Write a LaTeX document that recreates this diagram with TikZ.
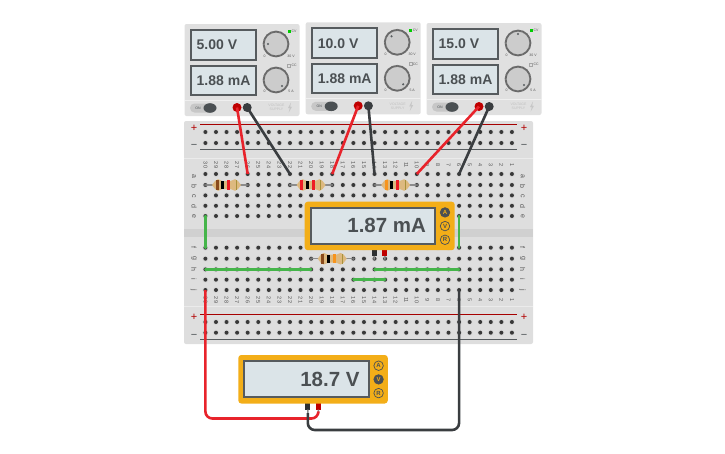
\documentclass[tikz,border=0pt]{standalone}
\usepackage{fontspec}
\setmainfont{Liberation Sans}
\usetikzlibrary{
	positioning
}
\definecolor{boardgrey}{HTML}{DEDEDE}
\definecolor{bandgrey}{HTML}{D0D0D0}
\definecolor{psugrey}{HTML}{E0E0E0}
\definecolor{lcdblue}{HTML}{DBE4E8}
\definecolor{lcdedge}{HTML}{565B5E}
\definecolor{inkgrey}{HTML}{4B5053}
\definecolor{labelgrey}{HTML}{555555}
\definecolor{knobring}{HTML}{6A6A6A}
\definecolor{meterorange}{HTML}{F3AE18}
\definecolor{wireredc}{HTML}{E8232B}
\definecolor{wireblackc}{HTML}{3A3D40}
\definecolor{wiregreenc}{HTML}{45B54A}
\definecolor{resbody}{HTML}{DDB97F}
\definecolor{brownband}{HTML}{8A4B1C}
\definecolor{redband}{HTML}{EE1C25}
\definecolor{orangeband}{HTML}{F7941D}
\definecolor{goldband}{HTML}{A8923C}
\tikzset{
	collabel/.style={font=\fontsize{5.5}{6}\selectfont, text=labelgrey, rotate=-90, inner sep=0pt},
	railsign/.style={font=\fontsize{11}{11}\selectfont, inner sep=0pt},
	tiny label/.style={font=\fontsize{3.5}{4}\selectfont, text=labelgrey, inner sep=0pt},
	psubody/.style={fill=psugrey, rounded corners=2pt, anchor=north west, inner sep=0pt, outer sep=0pt, minimum width=115pt, minimum height=92pt},
	lcd/.style={draw=lcdedge, fill=lcdblue, line width=2pt, inner sep=0pt, outer sep=0pt},
	readout/.style={font=\fontsize{14}{14}\selectfont\bfseries, text=inkgrey, inner sep=0pt},
	bigreadout/.style={font=\fontsize{20.5}{20.5}\selectfont\bfseries, text=inkgrey, inner sep=0pt},
	terminal/.style={circle, inner sep=0pt, minimum size=9pt},
	wirered/.style={draw=wireredc, line width=2.6pt, rounded corners=7pt},
	wireblack/.style={draw=wireblackc, line width=2.6pt, rounded corners=7pt},
	wiregreen/.style={draw=wiregreenc, line width=2.6pt, line cap=round},
	btnoff/.style={circle, draw=inkgrey, line width=.7pt, text=inkgrey, minimum size=9.5pt, inner sep=0pt, font=\fontsize{6}{6}\selectfont\bfseries},
	btnon/.style={btnoff, fill=inkgrey, text=meterorange}
}
\begin{document}
\begin{tikzpicture}[x=1pt, y=-1pt]
	\useasboundingbox (0,0) rectangle (725,453);

	% breadboard
	\node[fill=boardgrey, rounded corners=2pt, anchor=north west, inner sep=0pt, outer sep=0pt, minimum width=349pt, minimum height=223pt] (board) at (184,121) {};
	\fill[bandgrey] (184,229) rectangle (533,237);
	\draw[white!40!boardgrey, line width=.8pt] (184,158) -- (533,158);
	\draw[white!40!boardgrey, line width=.8pt] (184,306) -- (533,306);
	\foreach \y/\c/\w in {124.5/red!65!black/1.2, 149.5/lcdedge/1.2, 314.3/red!65!black/1.2, 339.3/lcdedge/1.2} {
		\draw[\c, line width=\w pt] (200,\y) -- (517,\y);
	}
	\foreach \y/\n in {128/a, 317/b} {
		\node[railsign, text=red!70!black] (plusl\n) at (194,\y) {+};
		\node[railsign, text=red!70!black] (plusr\n) at (524,\y) {+};
	}
	\foreach \y/\n in {146/a, 336/b} {
		\node[railsign, text=inkgrey] (minusl\n) at (194,\y) {\textminus};
		\node[railsign, text=inkgrey] (minusr\n) at (524,\y) {\textminus};
	}

	% holes
	\foreach \c in {1,...,30} {
		\pgfmathsetmacro{\hx}{205.4+(30-\c)*10.57}
		\foreach \r/\ry in {tp/132, tn/143, a/174, b/185, c/195.4, d/205.8, e/216, f/247.7, g/258.7, h/269.4, i/279.7, j/290, bp/322, bn/332.7} {
			\coordinate (h-\c-\r) at (\hx,\ry);
			\fill[black!16] (h-\c-\r) circle (3pt);
			\fill[black!78] (h-\c-\r) circle (2pt);
		}
		\node[collabel] (top-\c) at (\hx,165) {\c};
		\node[collabel] (bot-\c) at (\hx,300) {\c};
	}
	\foreach \r/\ry in {a/176, b/186, c/196, d/206, e/216, f/247, g/258, h/269, i/279, j/290} {
		\node[collabel, font=\fontsize{7}{7}\selectfont] (left-\r) at (194,\ry) {\r};
		\node[collabel, font=\fontsize{7}{7}\selectfont] (right-\r) at (522.7,\ry) {\r};
	}

	% resistors
	\foreach \from/\to/\name/\bA/\bB/\bC in {h-30-b/h-26-b/r1/brownband/black/redband, h-22-b/h-18-b/r2/redband/black/redband, h-14-b/h-10-b/r3/orangeband/black/redband, h-20-g/h-16-g/r4/brownband/black/orangeband} {
		\draw[black!45, line width=1.5pt] (\from) -- (\to) coordinate[midway] (\name);
		\fill[black!55] (\from) circle (1.5pt) (\to) circle (1.5pt);
		\begin{scope}[shift={(\name)}]
			\fill[resbody] (-14.5,0) .. controls (-12,-3) and (-11,-5.8) .. (-8.5,-5.8) .. controls (-6.5,-5.8) and (-6,-4) .. (-4,-4) -- (4,-4) .. controls (6,-4) and (6.5,-5.8) .. (8.5,-5.8) .. controls (11,-5.8) and (12,-3) .. (14.5,0) .. controls (12,3) and (11,5.8) .. (8.5,5.8) .. controls (6.5,5.8) and (6,4) .. (4,4) -- (-4,4) .. controls (-6,4) and (-6.5,5.8) .. (-8.5,5.8) .. controls (-11,5.8) and (-12,3) .. (-14.5,0) -- cycle;
			\fill[\bA] (-11,-5) rectangle (-8,5);
			\fill[\bB] (-5.2,-4) rectangle (-2.2,4);
			\fill[\bC] (.4,-4.6) rectangle (3.4,4.6);
			\fill[goldband] (9.3,-5) rectangle (10.2,5);
		\end{scope}
	}

	% power supplies
	\foreach \s/\sx/\sy/\volt/\kx/\ky in {s1/184.5/24/5.00 V/-8/0, s2/305.7/22.3/10.0 V/-5.7/-6, s3/426.5/23/15.0 V/0/-9} {
		\begin{scope}[shift={(\sx,\sy)}]
			\node[psubody] (\s-body) at (0,0) {};
			\draw[white!50!psugrey, line width=.7pt] (0,76) -- (115,76);
			\node[lcd, anchor=north west, minimum width=65pt, minimum height=30pt] (\s-v) at (6,6) {};
			\node[lcd, minimum width=65pt, minimum height=29pt, below=6pt of \s-v] (\s-i) {};
			\node[readout, anchor=west, xshift=6pt] (\s-vtext) at (\s-v.west) {\volt};
			\node[readout, anchor=west, xshift=6pt] (\s-itext) at (\s-i.west) {1.88 mA};
			% knobs
			\foreach \kc/\dx/\dy in {20/\kx/\ky, 56/6/6} {
				\fill[black!20] (91.5,\kc) circle (12.6pt);
				\draw[knobring, line width=1.9pt, dash pattern=on .7pt off .3pt] (91.5,\kc) circle (12.4pt);
				\fill[lcdedge] (91.5+\dx,\kc+\dy) circle (1.2pt);
			}
			\fill[green!80!black] (103,6.2) rectangle (106,9.2);
			\draw[black!35, line width=.4pt] (103,40.2) rectangle (106,43.2);
			\node[tiny label, anchor=west] (\s-cv) at (107,7.7) {CV};
			\node[tiny label, anchor=west] (\s-cc) at (107,41.7) {CC};
			\node[tiny label] (\s-vmin) at (80,32) {0};
			\node[tiny label] (\s-vmax) at (106.5,32) {30 V};
			\node[tiny label] (\s-imin) at (80,67.7) {0};
			\node[tiny label] (\s-imax) at (106.5,67.7) {5 A};
			% switch
			\fill[black!22, rounded corners=4.5pt] (5.5,79.5) rectangle (31,88.5);
			\fill[inkgrey] (25.5,84) ellipse (6.5pt and 4.8pt);
			\node[tiny label, text=inkgrey] (\s-on) at (13.5,84) {ON};
			\node[terminal, fill=red!75!black] (\s-pos) at (52.5,83.5) {};
			\node[terminal, fill=wireblackc] (\s-neg) at (62.7,83.5) {};
			\node[tiny label, text=black!25, align=center] (\s-name) at (92,83.5) {VOLTAGE\\SUPPLY};
			\fill[black!22] (106.5,78.5) -- (103.5,84) -- (105.3,84) -- (104.2,88.5) -- (107.5,82.8) -- (105.7,82.8) -- cycle;
		\end{scope}
	}

	% jumpers
	\foreach \from/\to/\wstyle in {s1-pos.center/h-26-a/wirered, s1-neg.center/h-22-a/wireblack, s2-pos.center/h-18-a/wirered, s2-neg.center/h-14-a/wireblack, s3-pos.center/h-10-a/wirered, s3-neg.center/h-6-a/wireblack, h-30-e/h-30-f/wiregreen, h-6-e/h-6-f/wiregreen, h-30-h/h-20-h/wiregreen, h-14-h/h-6-h/wiregreen, h-16-i/h-13-i/wiregreen} {
		\draw[\wstyle] (\from) -- (\to);
	}

	% multimeters
	\foreach \m/\mx/\my/\val/\sA/\sV/\sW/\sH in {amm/304.7/201.7/1.87 mA/btnon/btnoff/150/48.5, volt/238.3/355/18.7 V/btnoff/btnon/149.5/48.5} {
		\begin{scope}[shift={(\mx,\my)}]
			\fill[inkgrey!60!black] (67,48) rectangle (72,54.5);
			\fill[red!75!black] (77.6,48) rectangle (82.6,54.5);
			\fill[black!45] (68.7,54.5) rectangle (70.3,58) (79.3,54.5) rectangle (80.9,58);
			\coordinate (\m-neg) at (69.5,58);
			\coordinate (\m-pos) at (80.1,58);
			\node[fill=meterorange, rounded corners=3pt, anchor=north west, inner sep=0pt, outer sep=0pt, minimum width=\sW pt, minimum height=\sH pt] (\m-body) at (0,0) {};
			\node[lcd, anchor=north west, minimum width=124.5pt, minimum height=36pt] (\m-lcd) at (6,6) {};
			\node[bigreadout, anchor=east, xshift=-9pt] (\m-text) at (\m-lcd.east) {\val};
			\node[\sA] (\m-a) at (140.3,10.7) {A};
			\node[\sV, below=3.5pt of \m-a] (\m-v) {V};
			\node[btnoff, below=3.5pt of \m-v] (\m-r) {R};
		\end{scope}
	}

	% voltmeter leads
	\coordinate (redlow) at (205,418.5);
	\coordinate (blacklow) at (458.9,430);
	\draw[wirered] (h-30-j) -- (h-30-j |- redlow) -- (volt-pos |- redlow) -- (volt-pos);
	\draw[wireblack] (volt-neg) -- (volt-neg |- blacklow) -- (h-6-j |- blacklow) -- (h-6-j);
\end{tikzpicture}
\end{document}
